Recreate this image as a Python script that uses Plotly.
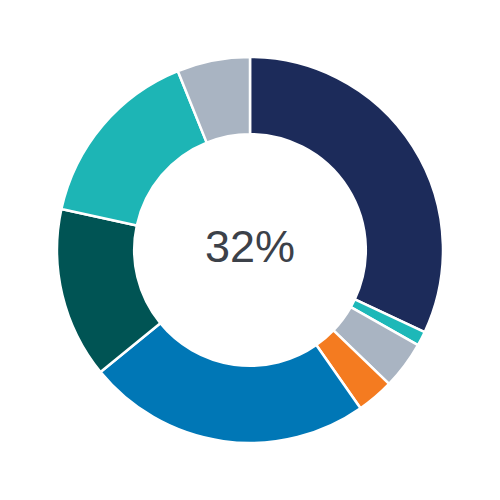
import plotly.graph_objects as go

labels = ["A", "B", "C", "D", "E", "F", "G", "H"]
values = [32, 1.2, 4, 3.1, 23.8, 14.3, 15.5, 6.1]
colors = ["#1c2b5a", "#1db8b8", "#a9b4c2", "#f47b20", "#0077b6", "#005454", "#1db5b5", "#a9b4c2"]
center_text = "32%"

fig = go.Figure(go.Pie(
    labels=labels,
    values=values,
    hole=0.6,
    sort=False,
    direction="clockwise",
    rotation=0,
    textinfo="none",
    hoverinfo="none",
    marker=dict(colors=colors, line=dict(color="white", width=2.5)),
    showlegend=False,
))

fig.add_annotation(
    text=center_text, x=0.5, y=0.5, xref="paper", yref="paper", yshift=4,
    showarrow=False, font=dict(family="Liberation Sans, Arial", size=45, color="#3c4149"),
)

fig.update_layout(
    width=500, height=500,
    margin=dict(l=49, r=65, t=49, b=65),
    paper_bgcolor="white", plot_bgcolor="white",
)

fig.write_html("out.html")
